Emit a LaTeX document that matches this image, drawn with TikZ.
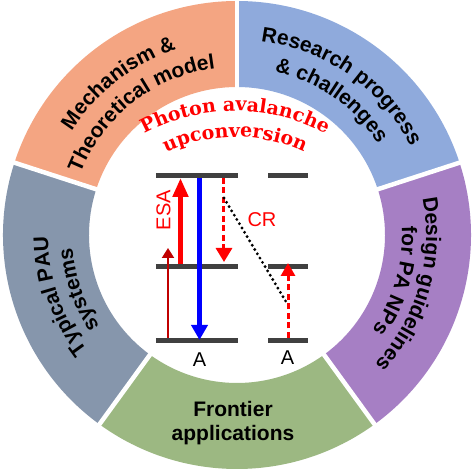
\documentclass[tikz,border=0pt]{standalone}
\usepackage{fontspec}
\setmainfont{Liberation Sans}
\newfontfamily\mytitlefamily{DejaVu Serif}
\usetikzlibrary{arrows.meta,decorations.text}

\definecolor{secO}{HTML}{F4A582}
\definecolor{secB}{HTML}{8FAADC}
\definecolor{secP}{HTML}{A67FC4}
\definecolor{secG}{HTML}{8696AC}
\definecolor{secN}{HTML}{9CB882}
\definecolor{barcol}{HTML}{404040}
\definecolor{dred}{HTML}{C00000}
\definecolor{tred}{HTML}{FF0000}

\newcommand\myringfont{\bfseries\fontsize{21}{25}\selectfont}
\newcommand\mytitlefont{\mytitlefamily\bfseries\fontsize{19}{23}\selectfont}
\newcommand\mylabelfont{\fontsize{20}{24}\selectfont}

\tikzset{
  ringtext/.style={decorate, decoration={text along path, text align=center, text color=black}},
  titletext/.style={decorate, decoration={text along path, text align=center, text color=tred}},
  levelbar/.style={draw=barcol, line width=5.5pt},
  gapline/.style={draw=white, line width=4.5pt},
  lbl/.style={text=tred, font=\mylabelfont, inner sep=0pt},
  albl/.style={text=black, font=\mylabelfont, inner sep=0pt},
}

\newcommand\arctext[3]{%
  \path[ringtext, decoration={text={|\myringfont|#3}}]
    (#1+70:#2) arc[start angle=#1+70, end angle=#1-70, radius=#2];}

\newcommand\sector[3]{%
  \fill[#3] (#1:148pt) arc[start angle=#1, end angle=#2, radius=148pt]
    -- (#2:234pt) arc[start angle=#2, end angle=#1, radius=234pt] -- cycle;}

\begin{document}
\begin{tikzpicture}[x=1pt,y=1pt]
\fill[white] (-237,-235) rectangle (237,235);
\useasboundingbox (-237,-235) rectangle (237,235);

% ring sectors
\sector{90}{162}{secO}
\sector{18}{90}{secB}
\sector{-54}{18}{secP}
\sector{-126}{-54}{secN}
\sector{162}{234}{secG}
\foreach \a in {90,18,-54,-126,162}
  \draw[gapline] (\a:140pt) -- (\a:240pt);

% ring texts
\arctext{128}{195pt}{Mechanism {\&}}
\arctext{128}{168pt}{Theoretical model}
\arctext{55}{195pt}{Research progress}
\arctext{55}{168pt}{{\&} challenges}
\arctext{199}{189pt}{Typical PAU}
\arctext{199}{165pt}{systems}
\arctext{-16}{189pt}{Design guidelines}
\arctext{-16}{165pt}{for PA NPs}
\node[anchor=base, font=\myringfont, inner sep=0pt] (front) at (-4,-182) {Frontier};
\node[anchor=base, font=\myringfont, inner sep=0pt] (appl) at (-4,-206) {applications};

% title
\path[shift={(-2,-66)}, titletext, decoration={text={|\mytitlefont|Photon avalanche}}]
  (130:190pt) arc[start angle=130, end angle=50, radius=190pt];
\path[shift={(-2,-66)}, titletext, decoration={text={|\mytitlefont|upconversion}}]
  (135:164pt) arc[start angle=135, end angle=45, radius=164pt];

% energy levels
\coordinate (L3a) at (-81,59.5);  \coordinate (L3b) at (1,59.5);
\coordinate (L2a) at (-81,-31.5); \coordinate (L2b) at (1,-31.5);
\coordinate (L1a) at (-81,-105.5);\coordinate (L1b) at (1,-105.5);
\coordinate (R3a) at (31,59.5);   \coordinate (R3b) at (71,59.5);
\coordinate (R2a) at (31,-31.5);  \coordinate (R2b) at (71,-31.5);
\coordinate (R1a) at (31,-105.5); \coordinate (R1b) at (71,-105.5);
\draw[levelbar] (L3a) -- (L3b);
\draw[levelbar] (L2a) -- (L2b);
\draw[levelbar] (L1a) -- (L1b);
\draw[levelbar] (R3a) -- (R3b);
\draw[levelbar] (R2a) -- (R2b);
\draw[levelbar] (R1a) -- (R1b);

% arrows
\coordinate (gsaS) at (-69,-103);   \coordinate (gsaE) at (-69,-13);
\coordinate (esaS) at (-56.5,-29);  \coordinate (esaE) at (-56.5,57);
\coordinate (emS) at (-37.5,57);    \coordinate (emE) at (-37.5,-105);
\coordinate (crS) at (-13,57);      \coordinate (crE) at (-13,-27);
\coordinate (crbS) at (51,-103);    \coordinate (crbE) at (51,-28);
\coordinate (dotS) at (-13,37);     \coordinate (dotE) at (51,-70);

\draw[dred, line width=2pt, -{Triangle[width=12pt,length=10pt]}] (gsaS) -- (gsaE);
\draw[tred, line width=5.5pt, -{Triangle[width=15pt,length=19pt]}] (esaS) -- (esaE);
\draw[blue, line width=5.5pt, -{Triangle[width=16pt,length=15pt]}] (emS) -- (emE);
\draw[tred, line width=3pt, dash pattern=on 6pt off 3.5pt, -{Triangle[width=16pt,length=14pt]}] (crS) -- (crE);
\draw[tred, line width=3pt, dash pattern=on 6pt off 3.5pt, -{Triangle[width=14pt,length=13pt]}] (crbS) -- (crbE);
\draw[black, line width=3.2pt, line cap=round, dash pattern=on 0pt off 5pt] (dotS) -- (dotE);

% labels
\node[lbl, rotate=90] (esa) at (-73.5,25) {ESA};
\node[lbl] (cr) at (25,15) {CR};
\node[albl] (a1) at (-37.5,-125) {A};
\node[albl] (a2) at (50.5,-123) {A};
\end{tikzpicture}
\end{document}
